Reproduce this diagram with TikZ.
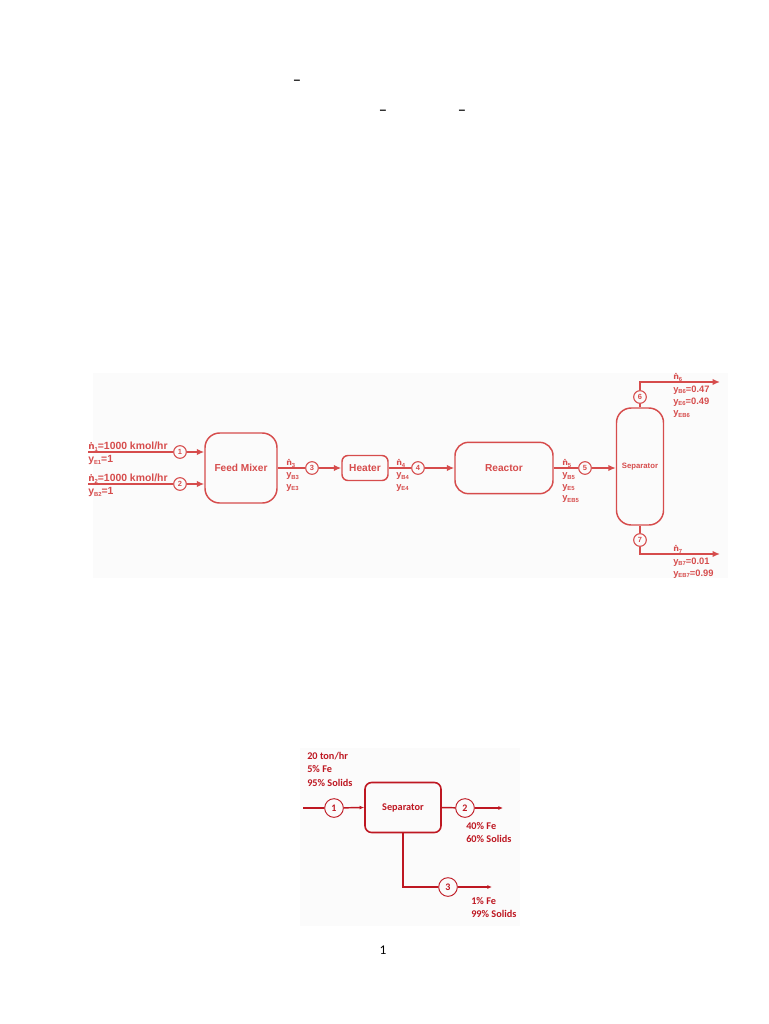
\documentclass[tikz,border=0pt]{standalone}
\usepackage{fontspec}
\setmainfont{Liberation Sans}
\newfontfamily\calibri{Carlito}
\newfontfamily\djv[Scale=0.86]{DejaVu Sans}
\usetikzlibrary{arrows.meta}
\definecolor{rA}{RGB}{214,76,76}
\definecolor{rB}{RGB}{190,24,34}
\definecolor{bgA}{RGB}{251,251,251}
\definecolor{dashc}{RGB}{50,50,50}
\newcommand\ndot{{\djv ṅ}}
\newcommand\sbs[1]{\raisebox{-0.35ex}{\fontsize{4.4}{5}\selectfont #1}}
\tikzset{
  pbox/.style={draw=rA, line width=1.1pt, text=rA, font=\bfseries\fontsize{7.6}{9}\selectfont, inner sep=0pt},
  num/.style={circle, draw=rA, line width=0.8pt, minimum size=9.5pt, inner sep=0pt, text=rA, font=\bfseries\fontsize{5.6}{6}\selectfont},
  lab/.style={text=rA, font=\bfseries\fontsize{7}{8}\selectfont, inner sep=0pt, anchor=base west},
  biglab/.style={lab, font=\bfseries\fontsize{7.8}{9}\selectfont},
  fl/.style={draw=rA, line width=1.1pt},
  fa/.style={fl, -{Latex[length=5.5pt,width=4.8pt]}},
  pbB/.style={draw=rB, line width=1.2pt, rounded corners=5pt, text=rB, font=\calibri\bfseries\fontsize{7.7}{9}\selectfont, inner sep=0pt},
  numB/.style={circle, draw=rB, line width=0.7pt, minimum size=14pt, inner sep=0pt, text=rB, font=\calibri\bfseries\fontsize{7.5}{8}\selectfont},
  labB/.style={text=rB, font=\calibri\bfseries\fontsize{7.7}{10}\selectfont, inner sep=0pt, anchor=north west, align=left},
  flB/.style={draw=rB, line width=1.1pt},
  faB/.style={flB, -{Latex[length=3.5pt,width=3pt]}},
  dashtxt/.style={text=dashc, font=\calibri\bfseries\fontsize{12.5}{14}\selectfont, inner sep=0pt},
}
\begin{document}
\begin{tikzpicture}[x=0.75pt,y=-0.75pt]
\useasboundingbox[fill=white] (0,0) rectangle (768,1024);
\fill[bgA] (93,373) rectangle (728,578);
\fill[bgA] (300,748) rectangle (520,926);

% stray dashes at top of page
\node[dashtxt] (da) at (297,83) {–};
\node[dashtxt] (db) at (383,113) {–};
\node[dashtxt] (dc) at (462,113) {–};

% ---------- diagram 1 ----------
\node[pbox, minimum width=54pt, minimum height=52.5pt, rounded corners=11pt] (mix) at (241,468) {Feed Mixer};
\node[pbox, minimum width=34.5pt, minimum height=18.75pt, rounded corners=4.5pt] (heat) at (365,468) {Heater};
\node[pbox, minimum width=73.5pt, minimum height=38.5pt, rounded corners=10pt] (reac) at (504,468) {Reactor};
\node[pbox, minimum width=35.25pt, minimum height=87.75pt, rounded corners=11pt, font=\bfseries\fontsize{5.8}{7}\selectfont] (sep) at (640,466.5) {Separator};

\node[num] (c1) at (180,452) {1};
\node[num] (c2) at (180,484) {2};
\node[num] (c3) at (312,468) {3};
\node[num] (c4) at (418,468) {4};
\node[num] (c5) at (585,468) {5};
\node[num] (c6) at (640,397) {6};
\node[num] (c7) at (640,540) {7};

\coordinate (s1) at (88,452);
\coordinate (s2) at (88,484);
\coordinate (k6) at (640,382);
\coordinate (e6) at (720,382);
\coordinate (k7) at (640,554);
\coordinate (e7) at (720,554);

\draw[fl] (s1) -- (c1);
\draw[fa] (c1) -- (c1 -| mix.west);
\draw[fl] (s2) -- (c2);
\draw[fa] (c2) -- (c2 -| mix.west);
\draw[fl] (mix.east) -- (c3);
\draw[fa] (c3) -- (heat.west);
\draw[fl] (heat.east) -- (c4);
\draw[fa] (c4) -- (reac.west);
\draw[fl] (reac.east) -- (c5);
\draw[fa] (c5) -- (c5 -| sep.west);
\draw[fl] (sep.north) -- (c6);
\draw[fa] (c6) -- (k6) -- (e6);
\draw[fl] (sep.south) -- (c7);
\draw[fa] (c7) -- (k7) -- (e7);

\node[biglab] (t1) at (88,449.5) {\ndot\sbs{1}=1000 kmol/hr};
\node[biglab] (u1) at (88,462.5) {y\sbs{E1}=1};
\node[biglab] (t2) at (88,481.5) {\ndot\sbs{2}=1000 kmol/hr};
\node[biglab] (u2) at (88,494.5) {y\sbs{B2}=1};

\node[lab] (n3) at (286,465.5) {\ndot\sbs{3}};
\node[lab] (b3) at (286,477.5) {y\sbs{B3}};
\node[lab] (e3) at (286,489) {y\sbs{E3}};

\node[lab] (n4) at (396,465.5) {\ndot\sbs{4}};
\node[lab] (b4) at (396,477.5) {y\sbs{B4}};
\node[lab] (e4) at (396,489) {y\sbs{E4}};

\node[lab] (n5) at (562,465.5) {\ndot\sbs{5}};
\node[lab] (b5) at (562,477.5) {y\sbs{B5}};
\node[lab] (e5) at (562,489) {y\sbs{E5}};
\node[lab] (eb5) at (562,500.5) {y\sbs{EB5}};

\node[lab] (n6) at (673,379.5) {\ndot\sbs{6}};
\node[lab] (b6) at (673,392) {y\sbs{B6}=0.47};
\node[lab] (e6l) at (673,404) {y\sbs{E6}=0.49};
\node[lab] (eb6) at (673,415.5) {y\sbs{EB6}};

\node[lab] (n7) at (673,551.5) {\ndot\sbs{7}};
\node[lab] (b7) at (673,564) {y\sbs{B7}=0.01};
\node[lab] (eb7) at (673,576) {y\sbs{EB7}=0.99};

% ---------- diagram 2 ----------
\node[pbB, minimum width=57pt, minimum height=37.5pt] (sepB) at (403,807.5) {Separator};
\node[numB] (d1) at (334,808) {1};
\node[numB] (d2) at (465,808) {2};
\node[numB] (d3) at (448,887) {3};
\coordinate (f1) at (303,808);
\coordinate (g2) at (503,808);
\coordinate (k3) at (403,887);
\coordinate (g3) at (492,887);

\draw[flB] (f1) -- (d1);
\draw[faB] (d1) -- (sepB.west);
\draw[flB] (sepB.east) -- (d2);
\draw[faB] (d2) -- (g2);
\draw[flB] (sepB.south) -- (k3) -- (d3);
\draw[faB] (d3) -- (g3);

\node[labB] (l1) at (307,752) {20 ton/hr\\5\% Fe\\95\% Solids};
\node[labB] (l2) at (466,822) {40\% Fe\\60\% Solids};
\node[labB] (l3) at (471,897) {1\% Fe\\99\% Solids};

% page number
\node[text=black, font=\calibri\fontsize{10}{12}\selectfont, inner sep=0pt] (pg) at (383,950) {1};
\end{tikzpicture}
\end{document}
